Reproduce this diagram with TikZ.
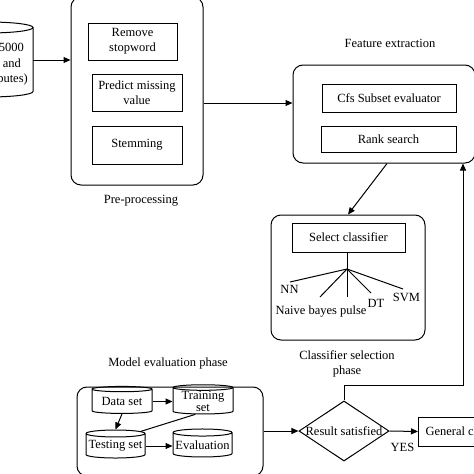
\documentclass[tikz,border=0pt]{standalone}
\usepackage{fontspec}
\setmainfont{Liberation Serif}
\usetikzlibrary{shapes.geometric,arrows.meta,calc}
\begin{document}
\begin{tikzpicture}[x=1pt,y=-1pt,
  every node/.style={font=\fontsize{12.5}{15}\selectfont, inner sep=0pt},
  grp/.style={draw, rounded corners=10pt, line width=1pt},
  bx/.style={draw, rectangle, line width=1pt},
  cyl/.style={draw, cylinder, shape border rotate=90, aspect=0.13, line width=1pt, align=center},
  arr/.style={line width=1pt, -{Triangle[length=7pt,width=6pt]}},
  ln/.style={line width=1pt},
  lbl/.style={align=center}]
\clip (0,0) rectangle (474,474);
\fill[white] (0,0) rectangle (474,474);
% input database (drawn as a cylinder outline)
\draw[ln] (-12,27.5) ellipse[x radius=45pt, y radius=5.5pt];
\draw[ln] (-57,27.5) -- (-57,91.5) arc[start angle=180, end angle=360, x radius=45pt, y radius=5.5pt] -- (33,27.5);
\coordinate (db) at (33,60);
\node[anchor=east] (db1) at (24,47) {15000};
\node[anchor=east] (db2) at (21,63) {records and};
\node[anchor=east] (db3) at (28,79) {attributes)};
% pre-processing
\node[grp, minimum width=132pt, minimum height=188pt] (pp) at (137,91) {};
\node[bx, lbl, minimum width=89pt, minimum height=37pt] (rs) at (132.5,41.5) {Remove\\stopword};
\node[bx, lbl, minimum width=90pt, minimum height=37pt] (pm) at (137,92.5) {Predict missing\\value};
\node[bx, minimum width=90pt, minimum height=38pt] (st) at (137,145) {Stemming};
\node (ppl) at (141,201) {Pre-processing};
% feature extraction
\node[grp, minimum width=182pt, minimum height=98pt] (fe) at (384,114) {};
\node (fel) at (390,43) {Feature extraction};
\node[bx, minimum width=134pt, minimum height=28pt] (cfs) at (389,98) {Cfs Subset evaluator};
\node[bx, minimum width=135pt, minimum height=26pt] (rk) at (388.5,139) {Rank search};
% classifier selection
\node[grp, minimum width=154pt, minimum height=125pt] (cs) at (348,277.5) {};
\node[bx, minimum width=113pt, minimum height=29pt] (sc) at (348.5,237.5) {Select classifier};
\coordinate (hub) at (347,269);
\coordinate (lnn) at (290,282);
\coordinate (lnb) at (320,297);
\coordinate (lmid) at (347,297);
\coordinate (ldt) at (371,293);
\coordinate (lsvm) at (403,289);
\draw[ln] (sc.south -| hub) -- (hub);
\draw[ln] (hub) -- (lnn);
\draw[ln] (hub) -- (lnb);
\draw[ln] (hub) -- (lmid);
\draw[ln] (hub) -- (ldt);
\draw[ln] (hub) -- (lsvm);
\node (nn) at (289.5,289) {NN};
\node (nb) at (321,312) {Naive bayes pulse};
\node (dt) at (376,303) {DT};
\node (svm) at (406.5,297) {SVM};
\node[lbl] (csl) at (347,364) {Classifier selection\\phase};
% model evaluation
\node (mel) at (168,363) {Model evaluation phase};
\node[grp, minimum width=186pt, minimum height=89pt] (me) at (170,431.5) {};
\node[cyl, minimum width=60pt, minimum height=27pt] (ds) at (122,401.5) {Data set};
\node[cyl, minimum width=60pt, minimum height=28pt, lbl, font=\fontsize{12.5}{12}\selectfont] (tr) at (203,401) {Training\\set};
\node[cyl, minimum width=59pt, minimum height=28pt] (ts) at (115.5,446) {Testing set};
\node[cyl, minimum width=59pt, minimum height=28pt] (ev) at (202.5,445) {Evaluation};
\draw[arr] (ds.east) -- (tr.west |- ds.east);
\draw[arr] (ds.south) -- (ts.north);
\draw[ln] (tr.240) -- (ts.30);
\draw[arr] (ts.east) -- (ev.west |- ts.east);
% decision
\node[draw, diamond, aspect=1.5, line width=1pt, minimum width=88pt, minimum height=58pt] (dia) at (344,431) {Result satisfied};
\node[bx, anchor=west, minimum height=29pt, inner xsep=7pt] (gc) at (418,431.5) {General classifier};
\node (yes) at (402.5,447) {YES};
\coordinate (fbk) at (463,385);
% connectors
\draw[arr] (db) -- (db -| pp.west);
\draw[arr] ([yshift=-12pt]pp.east) -- ([yshift=-12pt]pp.east -| fe.west);
\draw[arr] ([xshift=3pt]fe.south) -- (cs.north);
\draw[arr] (me.east |- dia.west) -- (dia.west);
\draw[arr] (dia.east) -- (gc.west);
\draw[arr] (dia.north) |- (fbk) -- (fbk |- fe.south);
\end{tikzpicture}
\end{document}
